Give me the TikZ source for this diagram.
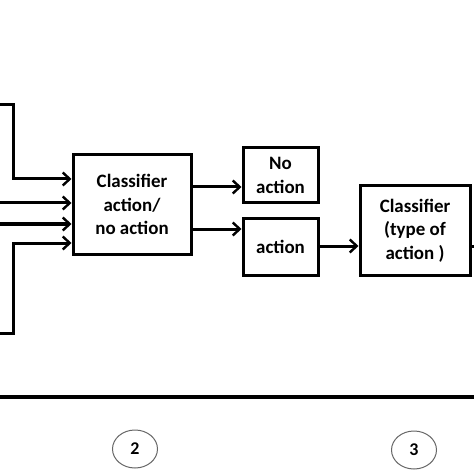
\documentclass[tikz,border=0pt]{standalone}
\usepackage{fontspec}
\setmainfont{Carlito}
\usetikzlibrary{arrows.meta,shapes.geometric}
\begin{document}
\begin{tikzpicture}[x=1bp,y=-1bp,
  box/.style={draw,line width=3bp,align=center,inner sep=0pt,
    font=\fontsize{19}{23.5}\selectfont\bfseries},
  conn/.style={line width=3bp,-{Straight Barb[length=7bp,width=13bp,line width=2.4bp]}},
  plain/.style={line width=3bp},
  num/.style={draw=gray!80!black,line width=1bp,ellipse,minimum width=45bp,minimum height=38bp,inner sep=0pt,
    font=\fontsize{18}{20}\selectfont\bfseries}]
\useasboundingbox (0,0) rectangle (474,474);
\node[box,minimum width=118bp,minimum height=99bp] (c1) at (132,204.5) {Classifier\\action/\\no action};
\node[box,minimum width=75bp,minimum height=55bp] (noact) at (280.5,175.5) {No\\action};
\node[box,minimum width=75bp,minimum height=56bp] (act) at (280.5,247) {action};
\node[box,minimum width=110bp,minimum height=89bp] (c3) at (415,230.5) {Classifier\\(type of\\action )};
\coordinate (i1) at (0,105);
\coordinate (i2) at (0,203);
\coordinate (i3) at (0,224);
\coordinate (i4) at (0,333);
\coordinate (re) at (474,246);
\draw[conn] (i1) -- (13,105) -- (13,179) -- (c1.west |- 0,179);
\draw[conn] (i2) -- (c1.west |- i2);
\draw[conn] (i3) -- (c1.west |- i3);
\draw[conn] (i4) -- (13,333) -- (13,243) -- (c1.west |- 0,243);
\draw[conn] (c1.east |- 0,187) -- (noact.west |- 0,187);
\draw[conn] (c1.east |- 0,229) -- (act.west |- 0,229);
\draw[conn] (act.east |- 0,246) -- (c3.west |- 0,246);
\draw[plain] (c3.east |- re) -- (re);
\coordinate (hl) at (0,397);
\coordinate (hr) at (474,397);
\draw[line width=3.2bp] (hl) -- (hr);
\node[num] (n2) at (135,449) {2};
\node[num] (n3) at (414,450) {3};
\end{tikzpicture}
\end{document}
